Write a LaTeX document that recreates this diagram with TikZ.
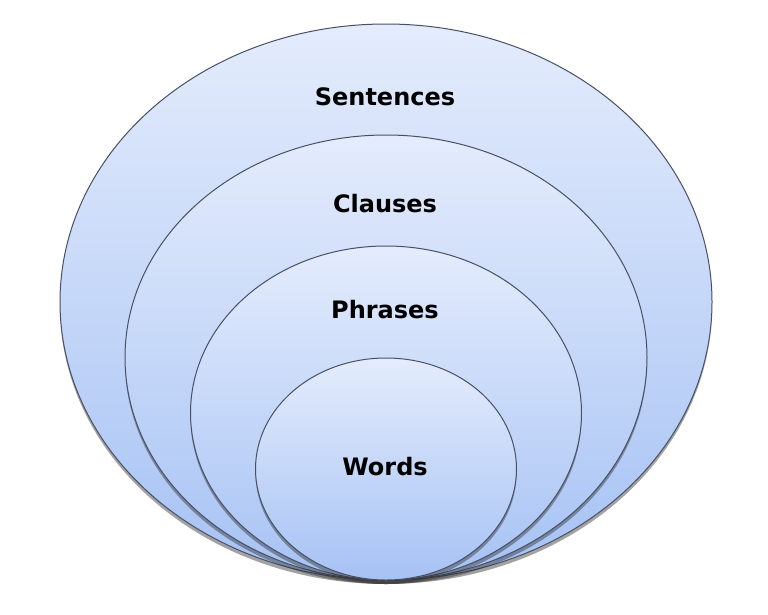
\documentclass[tikz,border=0pt]{standalone}
\usepackage{fontspec}
\setmainfont{DejaVu Sans}
\usepackage{tikz}
\usetikzlibrary{shapes.geometric,shadows}

\definecolor{ringtop}{RGB}{228,236,252}
\definecolor{ringbot}{RGB}{166,194,244}
\definecolor{ringline}{RGB}{72,80,100}

\begin{document}
\begin{tikzpicture}[x=1pt, y=-1pt, every node/.style={font=\bfseries\fontsize{24}{28}\selectfont}]
% styles
\tikzstyle{ring}=[ellipse,draw=ringline,line width=1pt,top color=ringtop,bottom color=ringbot,inner sep=0pt,outer sep=0pt,
  drop shadow={shadow xshift=0pt,shadow yshift=-4pt,opacity=0.45,fill=black!80}]
\tikzstyle{tag}=[text=black,inner sep=1pt]

\useasboundingbox (0,0) rectangle (768,614);

% rings, all touching at the bottom point (386,580)
\node[ring,minimum width=652pt,minimum height=556pt] (sent) at (386,302) {};
\node[ring,minimum width=522pt,minimum height=445pt] (clau) at (386,357.5) {};
\node[ring,minimum width=391pt,minimum height=334pt] (phra) at (386,413) {};
\node[ring,minimum width=261pt,minimum height=222pt] (word) at (386,469) {};

% labels
\node[tag] (tsent) at (385,97) {Sentences};
\node[tag] (tclau) at (385,204) {Clauses};
\node[tag] (tphra) at (385,310) {Phrases};
\node[tag] (tword) at (385,467) {Words};

\end{tikzpicture}
\end{document}
